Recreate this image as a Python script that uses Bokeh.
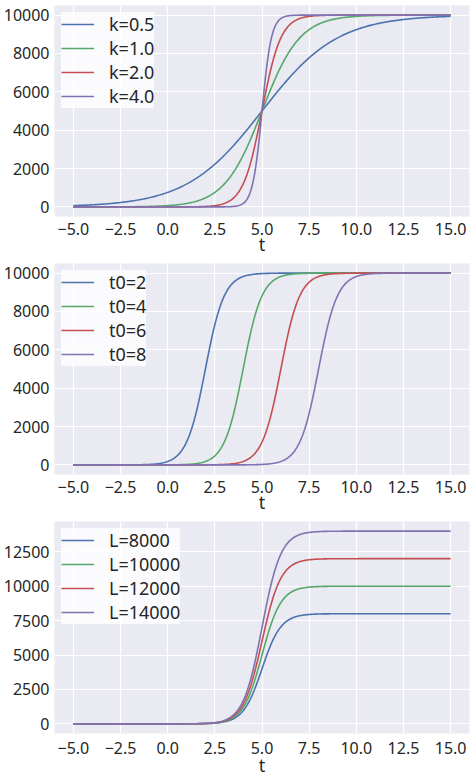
import numpy as np
from bokeh.plotting import figure
from bokeh.layouts import column
from bokeh.models import Range1d, FixedTicker, Legend
from bokeh.embed import file_html
from bokeh.resources import INLINE

# Logistic curve parameters: L / (1 + exp(-k (t - t0)))
k_values = [0.5, 1.0, 2.0, 4.0]
t0_values = [2, 4, 6, 8]
L_values = [8000, 10000, 12000, 14000]
base_L = 10000
base_k = 2.0
base_t0 = 5

t_start, t_end = -5, 15

x_ticks = [-5.0, -2.5, 0.0, 2.5, 5.0, 7.5, 10.0, 12.5, 15.0]
x_tick_labels = ["\u22125.0", "\u22122.5", "0.0", "2.5", "5.0", "7.5", "10.0", "12.5", "15.0"]
y_ticks_10k = [0, 2000, 4000, 6000, 8000, 10000]
y_ticks_14k = [0, 2500, 5000, 7500, 10000, 12500]

colors = ["#4C72B0", "#55A868", "#C44E52", "#8172B2"]
FONT = "Noto Sans"
TEXT = "#262626"

t = np.linspace(t_start, t_end, 400)


def logistic(t, L, k, t0):
    return L / (1.0 + np.exp(-k * (t - t0)))


def make_panel(curves, labels, y_range, y_ticks, height, bottom, extra=0):
    p = figure(width=474, height=height, output_backend="svg", toolbar_location=None,
               x_range=Range1d(-6, 16), y_range=Range1d(*y_range))
    p.min_border_left = 53
    p.min_border_right = 5
    p.min_border_top = 5
    p.min_border_bottom = bottom
    p.background_fill_color = "#EAEAF2"
    p.border_fill_color = "white"
    p.outline_line_color = None

    for g in p.grid:
        g.grid_line_color = "white"
        g.grid_line_width = 1.2

    p.xaxis.ticker = FixedTicker(ticks=x_ticks)
    p.xaxis.major_label_overrides = {v: s for v, s in zip(x_ticks, x_tick_labels)}
    p.yaxis.ticker = FixedTicker(ticks=y_ticks)
    p.yaxis.major_label_overrides = {v: str(v) for v in y_ticks}
    for ax in (p.xaxis, p.yaxis):
        ax.axis_line_color = None
        ax.major_tick_line_color = None
        ax.minor_tick_line_color = None
        ax.major_tick_out = 0
        ax.major_tick_in = 0
        ax.major_label_text_font = FONT
        ax.major_label_text_font_size = "16px"
        ax.major_label_text_color = TEXT
        ax.major_label_text_line_height = 1.0
    p.xaxis.major_label_standoff = 6 + extra
    p.yaxis.major_label_standoff = 5
    p.xaxis.axis_label = "t"
    p.xaxis.axis_label_text_font = FONT
    p.xaxis.axis_label_text_font_size = "18px"
    p.xaxis.axis_label_text_font_style = "normal"
    p.xaxis.axis_label_text_color = TEXT
    p.xaxis.axis_label_text_line_height = 1.0
    p.xaxis.axis_label_standoff = -6 + extra

    items = []
    for y, lab, c in zip(curves, labels, colors):
        r = p.line(t, y, line_color=c, line_width=1.6)
        items.append((lab, [r]))

    legend = Legend(items=items, location="top_left")
    legend.padding = 7
    legend.margin = 7
    legend.spacing = 0
    legend.glyph_width = 33
    legend.glyph_height = 18
    legend.label_height = 18
    legend.label_text_line_height = 1.0
    legend.label_standoff = 15
    legend.label_text_font = FONT
    legend.label_text_font_size = "18px"
    legend.label_text_color = TEXT
    legend.background_fill_color = "white"
    legend.background_fill_alpha = 0.8
    legend.border_line_color = None
    p.add_layout(legend, "center")
    return p


p1 = make_panel([logistic(t, base_L, k, base_t0) for k in k_values],
                [f"k={k}" for k in k_values], (-500, 10500), y_ticks_10k, 258, 38)
p2 = make_panel([logistic(t, base_L, base_k, t0) for t0 in t0_values],
                [f"t0={t0}" for t0 in t0_values], (-500, 10500), y_ticks_10k, 258, 38)
p3 = make_panel([logistic(t, L, base_k, base_t0) for L in L_values],
                [f"L={L}" for L in L_values], (-700, 14700), y_ticks_14k, 263, 43, extra=2)

layout = column(p1, p2, p3, spacing=0)
open("out.html", "w").write(file_html(layout, INLINE))
